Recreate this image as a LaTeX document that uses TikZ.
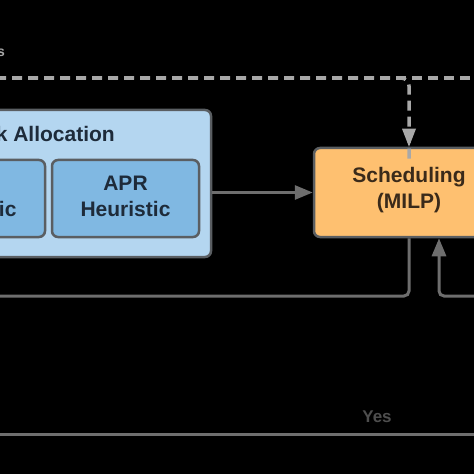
\documentclass[tikz,border=0pt]{standalone}
\usepackage{fontspec}
\setmainfont{Liberation Sans}
\usetikzlibrary{arrows.meta}
\definecolor{bgblack}{HTML}{000000}
\definecolor{outerblue}{HTML}{B4D6F0}
\definecolor{innerblue}{HTML}{80B8E2}
\definecolor{orangefill}{HTML}{FEC070}
\definecolor{boxline}{HTML}{5A5E62}
\definecolor{navytext}{HTML}{1E2B3A}
\definecolor{browntext}{HTML}{3A2A1A}
\definecolor{connline}{HTML}{6E6E6E}
\definecolor{dashline}{HTML}{A8A8A8}
\definecolor{labelgray}{HTML}{4E4E4E}
\tikzset{
  outerbox/.style={draw=boxline, line width=2.5bp, fill=outerblue, rounded corners=6bp, minimum width=411bp, minimum height=147bp, inner sep=0pt},
  innerbox/.style={draw=boxline, line width=2.5bp, fill=innerblue, rounded corners=6bp, minimum width=147bp, minimum height=77bp, inner sep=0pt},
  schedbox/.style={draw=boxline, line width=2.5bp, fill=orangefill, rounded corners=6bp, minimum width=190bp, minimum height=89bp, inner sep=0pt},
  boxtext/.style={font=\bfseries\fontsize{21bp}{26bp}\selectfont, align=center, inner sep=0pt},
  conn/.style={draw=connline, line width=3bp, rounded corners=5bp},
  dashconn/.style={draw=dashline, line width=3.5bp, dash pattern=on 10bp off 6bp, rounded corners=8bp},
  tipsolid/.style={-{Triangle[length=18bp,width=14bp]}},
}
\begin{document}
\begin{tikzpicture}[x=1bp,y=-1bp]
\useasboundingbox (0,0) rectangle (474,474);
\fill[bgblack] (-20,-20) rectangle (494,494);
% boxes
\node[outerbox] (ta) at (5.5,183.5) {};
\node[boxtext, text=navytext, anchor=east] (tatitle) at (115,134) {Task Allocation};
\node[innerbox] (h1) at (-28.5,198.5) {};
\node[boxtext, text=navytext] (h1text) at (-28.5,209) {Heuristic};
\node[innerbox] (h2) at (125.5,198.5) {};
\node[boxtext, text=navytext] (h2text) at (125.5,196) {APR\\Heuristic};
\node[schedbox] (sched) at (409,192.5) {};
\node[boxtext, text=browntext] (schedtext) at (409,190) {Scheduling\\(MILP)};
% coordinates
\coordinate (dl) at (-20,78);
\coordinate (dr) at (494,78);
\coordinate (lo) at (-20,296);
\coordinate (ro) at (494,296);
\coordinate (upc) at (439,296);
\coordinate (bl) at (-20,434);
\coordinate (br) at (494,434);
% connectors
\draw[dashconn] (dl) -- (dr);
\draw[dashconn, rounded corners=8bp] (dl) -- (sched.north |- dl) -- ([yshift=-16bp]sched.north);
\fill[dashline] (sched.north) -- ++(-7,-18) -- ++(14,0) -- cycle;
\draw[conn, tipsolid] (ta.east |- sched.west) -- (sched.west);
\draw[conn] (sched.south) -- (sched.south |- lo) -- (lo);
\draw[conn, tipsolid] (ro) -- (upc) -- (upc |- sched.south);
\draw[conn] (bl) -- (br);
\node[font=\bfseries\fontsize{17bp}{20bp}\selectfont, text=labelgray, inner sep=0pt] (yes) at (377,417) {Yes};
\node[font=\bfseries\fontsize{14bp}{16bp}\selectfont, text=dashline, inner sep=0pt, anchor=east] (topfrag) at (5,53) {s};
\end{tikzpicture}
\end{document}
